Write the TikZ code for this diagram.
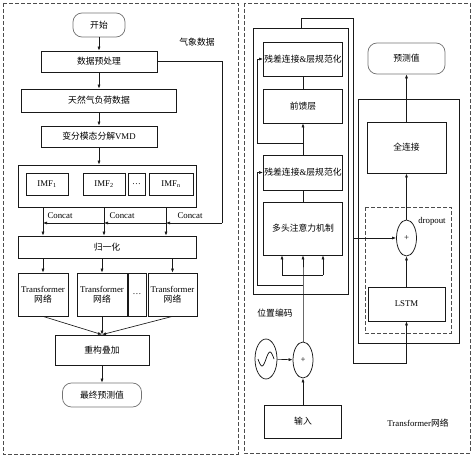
\documentclass[tikz,border=0pt]{standalone}
\usepackage{fontspec}
\setmainfont{Liberation Serif}
\newfontfamily\cjk{Noto Sans CJK SC}
\usetikzlibrary{arrows.meta,shapes.geometric}

\begin{document}
\begin{tikzpicture}[x=1pt,y=-1pt,font=\fontsize{8.8}{10.5}\selectfont,
  box/.style={draw=black!90, line width=0.75pt, inner sep=1pt, align=center},
  term/.style={box, draw=black!55, rounded corners=9pt},
  addnode/.style={draw=black!90, line width=0.75pt, ellipse, inner sep=0pt, minimum width=20pt, minimum height=36pt},
  arr/.style={-{Latex[length=4pt,width=3pt]}, draw=black!90, line width=0.65pt},
  ln/.style={draw=black!90, line width=0.65pt},
  frame/.style={draw=black!70, line width=0.8pt, dash pattern=on 4pt off 2pt}]
  \useasboundingbox (0,0) rectangle (474,457);

  % Two dashed panels
  \draw[frame] (3,3) rectangle (238,454);
  \draw[frame] (244,3) rectangle (470,453);

  % Left panel: decomposition and forecasting flow
  \node[term, minimum width=52pt, minimum height=24pt] (start) at (99,25) {\cjk 开始};
  \node at (197,42) {\cjk 气象数据};
  \node[box, minimum width=116pt, minimum height=21pt] (pre) at (99,61.5) {\cjk 数据预处理};
  \node[box, minimum width=155pt, minimum height=23pt] (gas) at (99,100.5) {\cjk 天然气负荷数据};
  \node[box, minimum width=116pt, minimum height=21pt] (vmd) at (99,136.5) {{\cjk 变分模态分解}VMD};

  \node[box, minimum width=178pt, minimum height=42pt] (imfs) at (107,186) {};
  \node[box, minimum width=42pt, minimum height=22pt] (imf1) at (47,184) {IMF\textsubscript{1}};
  \node[box, minimum width=42pt, minimum height=22pt] (imf2) at (104,184) {IMF\textsubscript{2}};
  \node[box, minimum width=17pt, minimum height=22pt] (imfd) at (136.5,184) {\dots};
  \node[box, minimum width=44pt, minimum height=22pt] (imfn) at (171,184) {IMF\textsubscript{n}};

  \node[box, minimum width=178pt, minimum height=22pt] (norm) at (107,247) {\cjk 归一化};

  \node[box, minimum width=50pt, minimum height=43pt] (tf1) at (43,294.5) {Transformer\\\cjk 网络};
  \node[box, minimum width=50pt, minimum height=43pt] (tf2) at (102,294.5) {Transformer\\\cjk 网络};
  \node[box, minimum width=18pt, minimum height=43pt] (tfd) at (137,294.5) {\dots};
  \node[box, minimum width=49pt, minimum height=43pt] (tf3) at (172.5,294.5) {Transformer\\\cjk 网络};

  \node[box, minimum width=94pt, minimum height=30pt] (recon) at (102,350) {\cjk 重构叠加};
  \node[term, minimum width=79pt, minimum height=24pt] (final) at (102,395) {\cjk 最终预测值};

  \draw[arr] (start) -- (pre);
  \draw[arr] (pre) -- (gas);
  \draw[arr] (gas) -- (vmd);
  \draw[arr] (vmd.south) -- (vmd.south |- imfs.north);

  % Concat of the weather data
  \coordinate (cr) at (222,223);
  \coordinate (j1) at (43,223);
  \coordinate (j2) at (104,223);
  \coordinate (j3) at (166,223);
  \draw[ln] (pre.east) -| (cr);
  \draw[arr] (cr) -- (j3);
  \draw[arr] (j3) -- (j2);
  \draw[arr] (j2) -- (j1);
  \draw[arr] (imfs.south -| j1) -- (norm.north -| j1);
  \draw[arr] (imfs.south -| j2) -- (norm.north -| j2);
  \draw[arr] (imfs.south -| j3) -- (norm.north -| j3);
  \node at (60,216) {Concat};
  \node at (122,216) {Concat};
  \node at (190,216) {Concat};

  \draw[arr] (norm.south -| tf1) -- (tf1.north);
  \draw[arr] (norm.south -| tf2) -- (tf2.north);
  \draw[arr] (norm.south -| tf3) -- (tf3.north);
  \draw[arr] (tf1.south) -- (recon.north);
  \draw[arr] (tf2.south) -- (recon.north);
  \draw[arr] (tf3.south) -- (recon.north);
  \draw[arr] (recon) -- (final);

  % Right panel: encoder stack
  \draw[ln] (253,28) rectangle (348,294);
  \node[box, minimum width=79pt, minimum height=34pt] (res2) at (303,59) {{\cjk 残差连接}\&{\cjk 层规范化}};
  \node[box, minimum width=79pt, minimum height=34pt] (ffn) at (303,106) {\cjk 前馈层};
  \node[box, minimum width=79pt, minimum height=35pt] (res1) at (303,172.5) {{\cjk 残差连接}\&{\cjk 层规范化}};
  \node[box, minimum width=79pt, minimum height=53pt] (mha) at (303,228.5) {\cjk 多头注意力机制};

  \node at (275,313) {\cjk 位置编码};
  \node[addnode, minimum width=22pt, minimum height=40pt] (pe) at (266,359) {};
  \draw[line width=0.65pt] plot[smooth, domain=-8:8, samples=25] ({266+\x},{359-7*sin(\x*22.5)});
  \node[addnode] (add) at (303,360) {+};
  \node[box, minimum width=77pt, minimum height=33pt] (inp) at (303,421.5) {\cjk 输入};
  \node at (418,423) {Transformer{\cjk 网络}};

  \draw[arr] (inp) -- (add);
  \draw[arr] (pe) -- (add);
  \coordinate (bm) at (303,275);
  \coordinate (bl) at (282,275);
  \coordinate (brr) at (323,275);
  \draw[arr] (add.north) -- (bm) -- (mha.south);
  \draw[ln] (bl) -- (brr);
  \draw[arr] (bl) -- (bl |- mha.south);
  \draw[arr] (brr) -- (brr |- mha.south);
  \draw[ln] (mha) -- (res1);
  \draw[arr] (res1) -- (ffn);
  \draw[ln] (ffn) -- (res2);

  % Residual connections
  \coordinate (r1) at (303,285);
  \coordinate (r2) at (303,143);
  \draw[arr] (r1) -- ++(-46,0) |- (res1.west);
  \draw[arr] (r2) -- ++(-46,0) |- (res2.west);

  % Right panel: LSTM branch
  \node[term, minimum width=77pt, minimum height=31pt] (pred) at (406.5,58.5) {\cjk 预测值};
  \draw[ln] (358,99) rectangle (459,343);
  \node[box, line width=0.95pt, minimum width=79pt, minimum height=51pt] (fc) at (406.5,147.5) {\cjk 全连接};
  \draw[frame] (365,207) rectangle (451,333);
  \node at (432,221) {dropout};
  \node[addnode] (add2) at (406.5,238) {+};
  \node[box, minimum width=77pt, minimum height=34pt] (lstm) at (406.5,304) {LSTM};

  \draw[arr] (lstm) -- (add2);
  \draw[arr] (add2) -- (fc);
  \draw[arr] (fc) -- (pred);

  % Encoder output to the LSTM branch
  \coordinate (ea) at (353,238);
  \draw[arr] (301,28) |- (353,18) -- (353,363) -| (lstm.south);
  \draw[arr] (ea) -- (add2.west);
\end{tikzpicture}
\end{document}
